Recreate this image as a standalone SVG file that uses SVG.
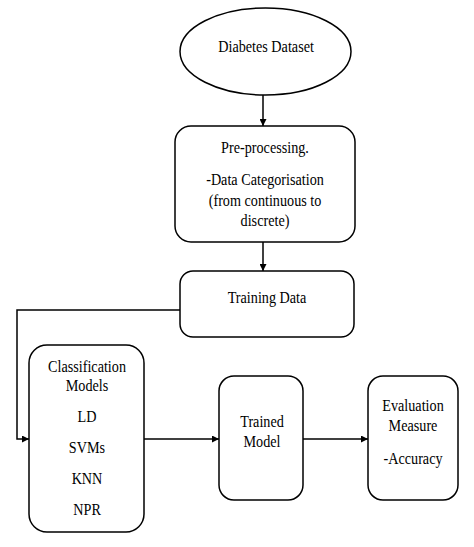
<svg xmlns="http://www.w3.org/2000/svg" width="474" height="547" viewBox="0 0 474 547">
<style>
.n{fill:#fff;stroke:#000;stroke-width:1.5}
.t{font-family:"Liberation Serif","Times New Roman",serif;font-size:16.5px;fill:#000;text-anchor:middle;transform-box:fill-box;transform-origin:center;transform:scaleX(0.86)}
.c{fill:none;stroke:#000;stroke-width:1.5}
</style>
<defs>
<marker id="ah" viewBox="0 0 10 10" refX="10" refY="5" markerWidth="7" markerHeight="7" markerUnits="userSpaceOnUse" orient="auto">
<path d="M0,0 L10,5 L0,10 z" fill="#000"/>
</marker>
</defs>
<rect width="474" height="547" fill="#fff"/>
<g id="connectors">
<line class="c" x1="263" y1="95" x2="263" y2="126" marker-end="url(#ah)"/>
<line class="c" x1="263" y1="242" x2="263" y2="271" marker-end="url(#ah)"/>
<polyline class="c" points="180,310 17,310 17,439 29,439" marker-end="url(#ah)"/>
<line class="c" x1="144" y1="439" x2="219" y2="439" marker-end="url(#ah)"/>
<line class="c" x1="303" y1="439" x2="368" y2="439" marker-end="url(#ah)"/>
</g>
<g id="dataset">
<ellipse class="n" cx="265.5" cy="51.5" rx="85.5" ry="43.5"/>
<text class="t" x="266" y="52.5">Diabetes Dataset</text>
</g>
<g id="preprocessing">
<rect class="n" x="175" y="126" width="180" height="116" rx="16"/>
<text class="t" x="265" y="153">Pre-processing.</text>
<text class="t" x="265" y="185">-Data Categorisation</text>
<text class="t" x="265" y="206">(from continuous to</text>
<text class="t" x="265" y="226">discrete)</text>
</g>
<g id="training">
<rect class="n" x="180" y="271" width="174" height="66" rx="13"/>
<text class="t" x="267" y="303">Training Data</text>
</g>
<g id="classification">
<rect class="n" x="29" y="345" width="115" height="187" rx="18"/>
<text class="t" x="87" y="372">Classification</text>
<text class="t" x="87" y="391">Models</text>
<text class="t" x="87" y="422">LD</text>
<text class="t" x="87" y="453">SVMs</text>
<text class="t" x="87" y="484">KNN</text>
<text class="t" x="87" y="515">NPR</text>
</g>
<g id="trained">
<rect class="n" x="219" y="376" width="84" height="124" rx="15"/>
<text class="t" x="262" y="427">Trained</text>
<text class="t" x="262" y="447">Model</text>
</g>
<g id="evaluation">
<rect class="n" x="368" y="376" width="90" height="124" rx="15"/>
<text class="t" x="413" y="411">Evaluation</text>
<text class="t" x="413" y="431">Measure</text>
<text class="t" x="413" y="464">-Accuracy</text>
</g>
</svg>
